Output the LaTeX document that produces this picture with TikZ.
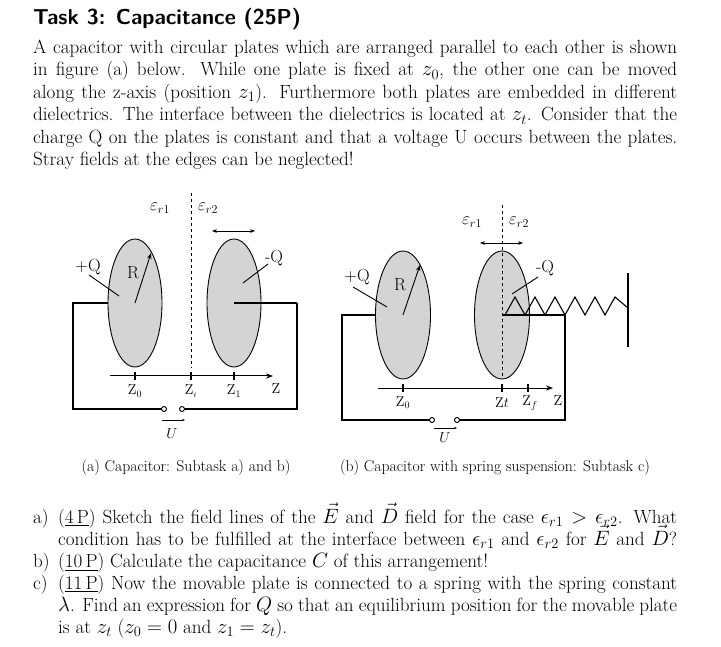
\documentclass[tikz,border=0pt]{standalone}
\usepackage{amsmath}
\usetikzlibrary{arrows.meta,shapes.geometric}
\newcommand{\jline}[3]{\node[txt,anchor=base west] at (#1) {\makebox[#2pt][s]{#3}};}
\begin{document}
\begin{tikzpicture}[x=1pt,y=-1pt,
  txt/.style={inner sep=0,font=\fontsize{19.1}{22}\selectfont},
  plate/.style={draw,fill=black!17,line width=0.9pt},
  wire/.style={line width=2.2pt},
  thin/.style={line width=0.9pt},
  lbl/.style={inner sep=0,font=\fontsize{17.5}{20}\selectfont},
  ax/.style={line width=1pt,-{Stealth[length=7pt]}},
  tickl/.style={inner sep=0,font=\fontsize{14.5}{16}\selectfont},
  term/.style={circle,draw,line width=0.9pt,fill=white,inner sep=0,minimum size=5pt}]
\useasboundingbox (0,0) rectangle (721,647);
\node[anchor=base west,inner sep=0,font=\fontsize{21.6}{24}\sffamily\bfseries] (title) at (33,25) {Task 3: Capacitance (25P)};
\jline{33,54}{644}{A capacitor with circular plates which are arranged parallel to each other is shown}
\jline{33,76}{644}{in figure (a) below. While one plate is fixed at $z_0$, the other one can be moved}
\jline{33,98.5}{644}{along the z-axis (position $z_1$). Furthermore both plates are embedded in different}
\jline{33,121}{644}{dielectrics. The interface between the dielectrics is located at $z_t$. Consider that the}
\jline{33,143.5}{644}{charge Q on the plates is constant and that a voltage U occurs between the plates.}
\node[txt,anchor=base west] (p6) at (33,166) {Stray fields at the edges can be neglected!};
\node[txt,anchor=base west] (ia) at (33,523) {a)};
\jline{58,523}{619}{(\underline{4\,P}) Sketch the field lines of the $\vec E$ and $\vec D$ field for the case $\epsilon_{r1} > \epsilon_{r2}$. What}
\jline{58,545}{619}{condition has to be fulfilled at the interface between $\epsilon_{r1}$ and $\epsilon_{r2}$ for $\vec E$ and $\vec D$?}
\node[txt,anchor=base west] (ib) at (33,567) {b)};
\node[txt,anchor=base west] (tb) at (58,567) {(\underline{10\,P}) Calculate the capacitance $C$ of this arrangement!};
\node[txt,anchor=base west] (ic) at (33,589) {c)};
\jline{58,589}{619}{(\underline{11\,P}) Now the movable plate is connected to a spring with the spring constant}
\jline{58,611}{619}{$\lambda$. Find an expression for $Q$ so that an equilibrium position for the movable plate}
\node[txt,anchor=base west] (tc3) at (58,633) {is at $z_t$ ($z_0 = 0$ and $z_1 = z_t$).};
\node[anchor=base,inner sep=0,font=\fontsize{15.7}{17}\selectfont] (capa) at (186,471) {(a) Capacitor: Subtask a) and b)};
\node[anchor=base,inner sep=0,font=\fontsize{15.7}{17}\selectfont] (capb) at (495,471) {(b) Capacitor with spring suspension: Subtask c)};

% ---------- figure (a)
\draw[dashed,line width=0.6pt] (191,193) -- (191,368);
\node[lbl] (e1a) at (160,208) {$\varepsilon_{r1}$};
\node[lbl] (e2a) at (208,208) {$\varepsilon_{r2}$};
\draw[thin,{Stealth[length=5pt]}-{Stealth[length=5pt]}] (212,231) -- (255,231);
\coordinate (wa1) at (73,303);
\coordinate (wa2) at (73,409);
\coordinate (wa3) at (297,409);
\coordinate (wa4) at (297,303);
\draw[wire] (108,303) -- (wa1) -- (wa2) -- (162,409);
\draw[wire] (184,409) -- (wa3) -- (wa4);
\node[plate,ellipse,minimum width=54pt,minimum height=128pt] (pa1) at (135,303) {};
\node[plate,ellipse,minimum width=54pt,minimum height=128pt] (pa2) at (234,303) {};
\draw[wire] (pa2.center) -- (wa4);
\draw[thin,-{Stealth[length=6pt]}] (pa1.center) -- (151,253);
\node[lbl] (Ra) at (133,273) {R};
\node[lbl] (qpa) at (88,267) {+Q};
\draw[thin] (89,275) -- (119,296);
\node[lbl] (qma) at (274,258) {-Q};
\draw[thin] (268,264) -- (243,283);
\node[term] (ta1) at (164,409) {};
\node[term] (ta2) at (182,409) {};
\draw[ax] (110,376) -- (273,376);
\foreach \x in {135,191,234} \draw[line width=1.2pt] (\x,372) -- (\x,380);
\node[tickl] (za0) at (135,391) {$\mathrm{Z}_0$};
\node[tickl] (zat) at (191,391) {$\mathrm{Z}_{\scriptscriptstyle t}$};
\node[tickl] (za1) at (234,391) {$\mathrm{Z}_1$};
\node[tickl] (zaz) at (276,389) {Z};
\draw[line width=0.6pt,-{Stealth[length=3pt]}] (162,420) -- (185,420);
\node[tickl] (Ua) at (172,434) {$U$};

% ---------- figure (b)
\node[lbl] (e1b) at (472,222) {$\varepsilon_{r1}$};
\node[lbl] (e2b) at (519,222) {$\varepsilon_{r2}$};
\draw[thin,{Stealth[length=5pt]}-{Stealth[length=5pt]}] (480,243) -- (523,243);
\coordinate (wb1) at (342,315);
\coordinate (wb2) at (342,420);
\coordinate (wb3) at (565,420);
\coordinate (wb4) at (565,315);
\draw[wire] (376,315) -- (wb1) -- (wb2) -- (430,420);
\draw[wire] (459,420) -- (wb3) -- (wb4);
\node[plate,ellipse,minimum width=55pt,minimum height=128pt] (pb1) at (403,315) {};
\node[plate,ellipse,minimum width=55pt,minimum height=128pt] (pb2) at (502,315) {};
\draw[dashed,line width=0.6pt] (502,205) -- (502,377);
\draw[wire] (pb2.center) -- (wb4);
\draw[line width=1.1pt] (505,315) -- (515,297) -- (525,315) -- (535,297) -- (545,315) -- (555,297) -- (565,315) -- (575,297) -- (585,315) -- (595,297) -- (605,315) -- (615,297) -- (628,308);
\draw[line width=1.1pt] (628,273) -- (628,347);
\draw[thin,-{Stealth[length=6pt]}] (pb1.center) -- (420,265);
\node[lbl] (Rb) at (400,285) {R};
\node[lbl] (qpb) at (357,277) {+Q};
\draw[thin] (353,287) -- (387,307);
\node[lbl] (qmb) at (545,268) {-Q};
\draw[thin] (538,277) -- (512,294);
\node[term] (tb1) at (432,420) {};
\node[term] (tb2) at (457,420) {};
\draw[ax] (378,388) -- (553,388);
\foreach \x in {403,502,528} \draw[line width=1.2pt] (\x,384) -- (\x,392);
\node[tickl] (zb0) at (403,403) {$\mathrm{Z}_0$};
\node[tickl] (zbt) at (502,403) {$\mathrm{Z}t$};
\node[tickl] (zbf) at (530,403) {$\mathrm{Z}_{f}$};
\node[tickl] (zbz) at (558,401) {Z};
\draw[line width=0.6pt,-{Stealth[length=3pt]}] (434,428) -- (457,428);
\node[tickl] (Ub) at (445,438) {$U$};
\end{tikzpicture}
\end{document}
